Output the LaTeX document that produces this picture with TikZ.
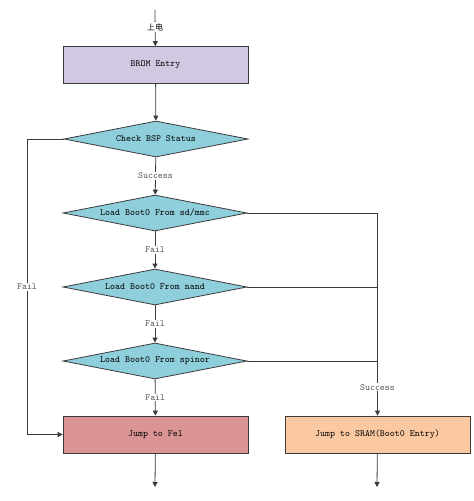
\documentclass[tikz,border=0pt]{standalone}
\usepackage{fontspec}
\newfontfamily\cjk{Noto Sans CJK SC}
\usetikzlibrary{arrows.meta,shapes.geometric}
\definecolor{Bc}{HTML}{D2C8E1}
\definecolor{Dc}{HTML}{8FCEDB}
\definecolor{Fc}{HTML}{D99493}
\definecolor{Sc}{HTML}{FBC9A1}
\definecolor{edge}{HTML}{3A3A3A}
\definecolor{lbl}{HTML}{555555}
\tikzset{
  box/.style={rectangle, draw=edge, thick, minimum width=185pt, minimum height=37pt,
    inner sep=0pt, font=\ttfamily\fontsize{9.5}{11}\selectfont},
  test/.style={diamond, aspect=5, draw=edge, thick, fill=Dc, minimum width=184pt,
    minimum height=36pt, inner sep=0pt, font=\ttfamily\fontsize{9.5}{11}\selectfont},
  link/.style={-{Triangle[length=5pt,width=5pt]}, edge, thick},
  tag/.style={fill=white, inner sep=1pt, text=lbl, font=\ttfamily\fontsize{9.5}{11}\selectfont},
}
\begin{document}
\begin{tikzpicture}[x=1pt, y=-1pt]
  \useasboundingbox (0,0) rectangle (474,501);
  \coordinate (pwr) at (155,10);
  \coordinate (lft) at (27,139);
  \coordinate (felout) at (155,487);
  \coordinate (sramout) at (377,487);
  \node[box, fill=Bc] (brom) at (155.5,65) {BROM Entry};
  \node[test] (bsp) at (156,139) {Check BSP Status};
  \node[test] (sd) at (155,213) {Load Boot0 From sd/mmc};
  \node[test] (nand) at (155,287) {Load Boot0 From nand};
  \node[test] (spinor) at (155,361) {Load Boot0 From spinor};
  \node[box, fill=Fc] (fel) at (155.5,434.5) {Jump to Fel};
  \node[box, fill=Sc] (sram) at (377.5,434.5) {Jump to SRAM(Boot0 Entry)};
  % main column
  \draw[link] (pwr) -- node[tag, text=black, font=\cjk\fontsize{8}{9}\selectfont, pos=0.47] {上电} (brom);
  \draw[link] (brom) -- (bsp);
  \draw[link] (bsp) -- node[tag] {Success} (sd);
  \draw[link] (sd) -- node[tag] {Fail} (nand);
  \draw[link] (nand) -- node[tag] {Fail} (spinor);
  \draw[link] (spinor) -- node[tag] {Fail} (fel);
  % branches
  \draw[link] (bsp.west) -- (lft) |- node[tag, pos=0.25] {Fail} (fel.west);
  \draw[link] (sd.east) -| node[tag, pos=0.93] {Success} (sram.north);
  \draw[edge, thick] (nand.east) -- (nand.east -| sram.north);
  \draw[edge, thick] (spinor.east) -- (spinor.east -| sram.north);
  \draw[link] (fel) -- (felout);
  \draw[link] (sram) -- (sramout);
\end{tikzpicture}
\end{document}
